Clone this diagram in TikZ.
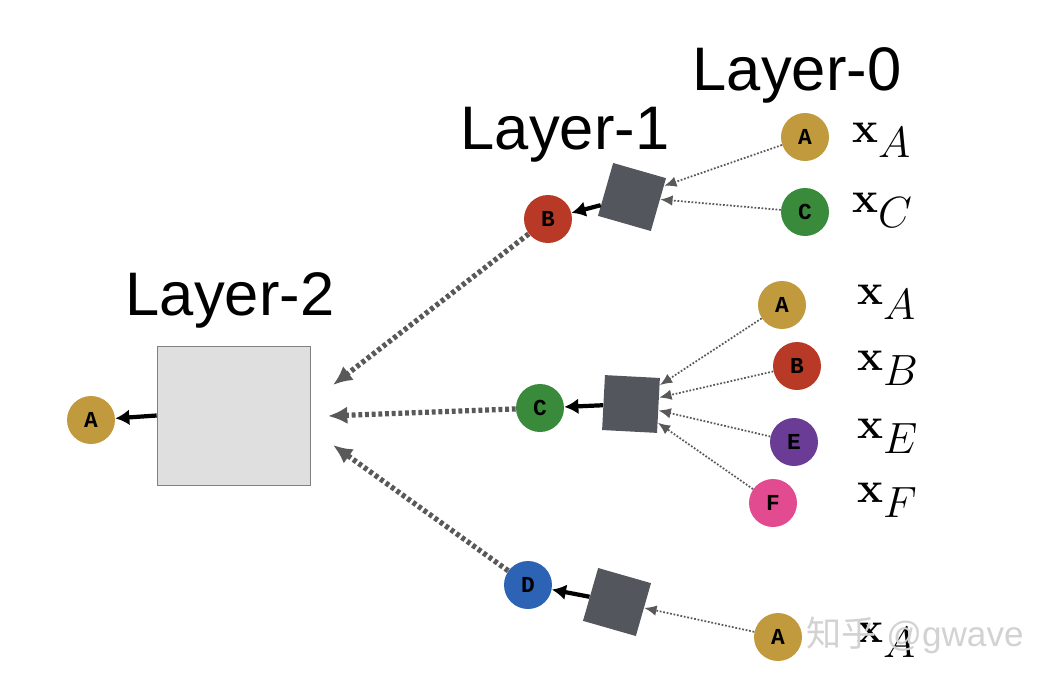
\documentclass[tikz,border=0pt]{standalone}
\usepackage{amsmath}
\usepackage[no-math]{fontspec}
\setmainfont{Liberation Sans}
\newfontfamily\monob{Liberation Mono}
\newfontfamily\cjk{Noto Sans CJK SC}
\usetikzlibrary{arrows.meta}
\definecolor{gold}{HTML}{C09A3C}
\definecolor{rred}{HTML}{B83A26}
\definecolor{ggreen}{HTML}{3A8A3C}
\definecolor{bblue}{HTML}{2C63B5}
\definecolor{ppurple}{HTML}{6A3C96}
\definecolor{ppink}{HTML}{E34B91}
\definecolor{slate}{HTML}{53565C}
\tikzset{
  vtx/.style={circle,fill=#1,minimum size=0.96cm,inner sep=0pt,font=\monob\bfseries\fontsize{13}{13}\selectfont},
  agg/.style={fill=slate,minimum size=1.1cm,inner sep=0pt},
  push/.style={-{Latex[length=8pt,width=9pt]},line width=2.4pt},
  msg/.style={-{Latex[length=7pt,width=6pt]},densely dotted,gray!70!black,line width=1pt},
  far/.style={-{Latex[length=11pt,width=10pt]},dash pattern=on 2.2pt off 1.6pt,gray!70!black,line width=3pt},
  layer/.style={font=\fontsize{35}{35}\selectfont},
  feat/.style={anchor=west,font=\fontsize{46}{46}\selectfont}
}
\begin{document}
\begin{tikzpicture}[x=0.02cm,y=-0.02cm]
    \useasboundingbox (0,0) rectangle (1042,684);

    % Layer-2
    \node[draw=gray,fill=gray!25,minimum width=3.06cm,minimum height=2.78cm] (big) at (233.5,415.5) {};
    \node[vtx=gold] (a2) at (91,420) {A};
    \draw[push] (big.west) -- (a2);
    \node[layer] (l2) at (230,300) {Layer-2};

    % Layer-1
    \node[vtx=rred] (b1) at (548,219) {B};
    \node[vtx=ggreen] (c1) at (540,408) {C};
    \node[vtx=bblue] (d1) at (528,585) {D};
    \node[agg,rotate=-16] (g1) at (632,197) {};
    \node[agg,rotate=-3] (g2) at (631,404) {};
    \node[agg,rotate=-16] (g3) at (617,602) {};
    \draw[push] (g1) -- (b1);
    \draw[push] (g2) -- (c1);
    \draw[push] (g3) -- (d1);
    \coordinate (t1) at (333,385);
    \coordinate (t2) at (328,416);
    \coordinate (t3) at (333,445);
    \draw[far] (b1) -- (t1);
    \draw[far] (c1) -- (t2);
    \draw[far] (d1) -- (t3);
    \node[layer] (l1) at (565,135) {Layer-1};

    % Layer-0
    \node[layer] (l0) at (797,75) {Layer-0};
    \node[vtx=gold] (a01) at (805,137) {A};
    \node[vtx=ggreen] (c01) at (805,212) {C};
    \node[vtx=gold] (a02) at (782,305) {A};
    \node[vtx=rred] (b02) at (797,366) {B};
    \node[vtx=ppurple,text=black] (e02) at (794,442) {E};
    \node[vtx=ppink] (f02) at (773,503) {F};
    \node[vtx=gold] (a03) at (778,637) {A};
    \foreach \s in {a01,c01} \draw[msg] (\s) -- (g1);
    \foreach \s in {a02,b02,e02,f02} \draw[msg] (\s) -- (g2);
    \draw[msg] (a03) -- (g3);

    % features
    \node[feat] (xa1) at (846,140) {$\mathbf{x}_A$};
    \node[feat] (xc1) at (846,210) {$\mathbf{x}_C$};
    \node[feat] (xa2) at (851,302) {$\mathbf{x}_A$};
    \node[feat] (xb2) at (851,368) {$\mathbf{x}_B$};
    \node[feat] (xe2) at (851,436) {$\mathbf{x}_E$};
    \node[feat] (xf2) at (851,500) {$\mathbf{x}_F$};
    \node[feat] (xa3) at (851,640) {$\mathbf{x}_A$};

    \node[text=gray!35,font=\fontsize{20}{20}\selectfont] (wm) at (915,635) {{\cjk 知乎} @gwave};
\end{tikzpicture}
\end{document}
